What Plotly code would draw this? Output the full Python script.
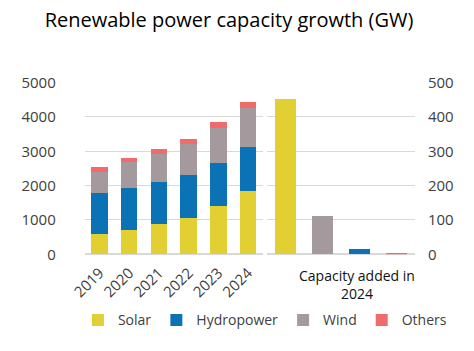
import plotly.graph_objects as go

years = ["2019", "2020", "2021", "2022", "2023", "2024"]
solar = [594, 722, 868, 1051, 1417, 1856]
hydro = [1179, 1207, 1225, 1252, 1252, 1279]
wind = [631, 749, 832, 905, 1024, 1115]
others = [128, 128, 137, 156, 155, 174]

added_cats = ["Solar", "Wind", "Hydropower", "Others"]
added_vals = [451, 113, 15.5, 5]

C_SOLAR = "#E2CF33"
C_HYDRO = "#0B72B5"
C_WIND = "#A49A9E"
C_OTHERS = "#F26B6B"
added_colors = [C_SOLAR, C_WIND, C_HYDRO, C_OTHERS]

W, H = 474, 351
FONT = "Open Sans"
TXT = "#404040"

fig = go.Figure()
for name, vals, col in [("Solar", solar, C_SOLAR), ("Hydropower", hydro, C_HYDRO),
                        ("Wind", wind, C_WIND), ("Others", others, C_OTHERS)]:
    fig.add_trace(go.Bar(x=years, y=vals, name=name, marker_color=col,
                         marker_line_width=0, width=0.55, xaxis="x", yaxis="y"))

fig.add_trace(go.Bar(x=added_cats, y=added_vals, marker_color=added_colors,
                     marker_line_width=0, width=0.565, showlegend=False,
                     xaxis="x2", yaxis="y2"))

ybot = 1 - 258 / H
ytop = 1 - 76 / H
fig.update_layout(
    width=W, height=H,
    margin=dict(l=0, r=0, t=0, b=0),
    paper_bgcolor="white", plot_bgcolor="white",
    barmode="stack",
    font=dict(family=FONT, color=TXT, size=14),
    title=dict(text="Renewable power capacity growth (GW)", x=229 / W, xanchor="center",
               y=1 - 20 / H, yanchor="middle",
               font=dict(family=FONT, size=20, color="#000000")),
    xaxis=dict(domain=[72 / W, 256 / W], anchor="y", showgrid=False, showline=False,
               tickangle=-45, tickfont=dict(size=15, color=TXT), ticks="",
               ticklabelstandoff=6),
    yaxis=dict(domain=[ybot, ytop], range=[0, 5000], tickvals=[0, 1000, 2000, 3000, 4000, 5000],
               gridcolor="#D9D9D9", gridwidth=1, zeroline=True, zerolinecolor="#D9D9D9",
               ticklabelstandoff=28, tickfont=dict(size=15, color=TXT)),
    xaxis2=dict(domain=[260 / W, 413 / W], anchor="y2", showgrid=False, showticklabels=False,
                ticks=""),
    yaxis2=dict(domain=[ybot, ytop], range=[0, 500], tickvals=[0, 100, 200, 300, 400, 500],
                anchor="x2", side="right",
                gridcolor="#D9D9D9", gridwidth=1, zeroline=True, zerolinecolor="#D9D9D9",
                ticklabelstandoff=12, tickfont=dict(size=15, color=TXT)),
    legend=dict(orientation="h", x=65 / W, xanchor="left", y=1 - 328 / H, yanchor="middle",
                font=dict(size=14, color=TXT), itemwidth=30, traceorder="normal",
                bgcolor="rgba(0,0,0,0)"),
    annotations=[dict(text="Capacity added in<br>2024", x=353 / W, y=1 - 290 / H,
                      xref="paper", yref="paper", showarrow=False, xanchor="center",
                      yanchor="middle", font=dict(size=14, color="#111111"))],
)

fig.write_html("out.html")
